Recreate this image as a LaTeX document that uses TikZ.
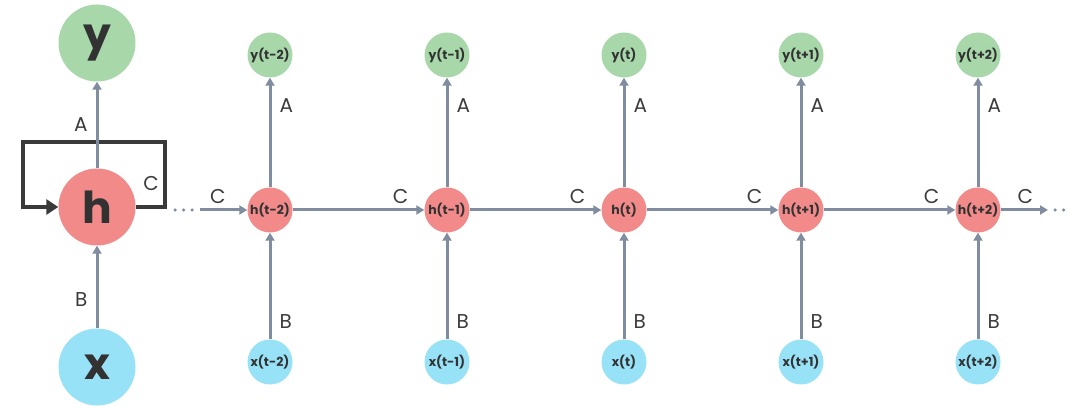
\documentclass[tikz,border=0pt]{standalone}
\usepackage{fontspec}
\setmainfont{Poppins}
\usetikzlibrary{arrows.meta, positioning}
\definecolor{rnngreen}{RGB}{168,216,170}
\definecolor{rnnred}{RGB}{242,138,138}
\definecolor{rnnblue}{RGB}{152,226,248}
\definecolor{arrowgray}{RGB}{128,140,160}
\definecolor{loopgray}{RGB}{58,58,58}
\definecolor{nodetext}{RGB}{50,50,50}
\definecolor{labeltext}{RGB}{60,60,60}
\tikzstyle{bignode} = [circle, minimum size=77pt, inner sep=0pt, text=nodetext, font=\fontsize{44}{44}\selectfont\bfseries]
\tikzstyle{smallnode} = [circle, minimum size=45pt, inner sep=0pt, text=nodetext, font=\fontsize{12.5}{12.5}\selectfont\bfseries]
\tikzstyle{arrow} = [line width=3pt, draw=arrowgray, -{Triangle[width=9pt,length=8pt]}]
\tikzstyle{feedback} = [line width=4.5pt, draw=loopgray, -{Triangle[width=15pt,length=12pt]}]
\tikzstyle{dots} = [line width=3.5pt, draw=arrowgray, line cap=round, dash pattern=on 0pt off 8.5pt]
\tikzstyle{lbl} = [font=\fontsize{20}{20}\selectfont, text=labeltext, inner sep=2pt]

\begin{document}
\begin{tikzpicture}[x=1pt, y=-1pt, node distance=177pt, on grid]
\useasboundingbox[fill=white] (0,0) rectangle (1069,406);

% folded network
\node (hidden) [bignode, fill=rnnred] at (97,207) {h};
\node (output) [bignode, fill=rnngreen, above=164pt of hidden] {y};
\node (input) [bignode, fill=rnnblue, below=160pt of hidden] {x};

\coordinate (looptr) at (165,142);
\coordinate (looptl) at (23,142);
\draw [feedback] (hidden.east) -| node[lbl, pos=0.68, left, xshift=-2pt] {C} (looptr) -- (looptl) |- (hidden.west);
\draw [arrow] (hidden) -- node[lbl, pos=0.5, left, xshift=-6pt] {A} (output);
\draw [arrow] (input) -- node[lbl, pos=0.35, left, xshift=-6pt] {B} (hidden);

% unrolled network
\node (htm2) [smallnode, fill=rnnred] at (270,210) {h(t-2)};
\node (htm1) [smallnode, fill=rnnred, right=of htm2] {h(t-1)};
\node (ht) [smallnode, fill=rnnred, right=of htm1] {h(t)};
\node (htp1) [smallnode, fill=rnnred, right=of ht] {h(t+1)};
\node (htp2) [smallnode, fill=rnnred, right=of htp1] {h(t+2)};

\node (ytm2) [smallnode, fill=rnngreen, above=155pt of htm2] {y(t-2)};
\node (ytm1) [smallnode, fill=rnngreen, above=155pt of htm1] {y(t-1)};
\node (yt) [smallnode, fill=rnngreen, above=155pt of ht] {y(t)};
\node (ytp1) [smallnode, fill=rnngreen, above=155pt of htp1] {y(t+1)};
\node (ytp2) [smallnode, fill=rnngreen, above=155pt of htp2] {y(t+2)};

\node (xtm2) [smallnode, fill=rnnblue, below=152pt of htm2] {x(t-2)};
\node (xtm1) [smallnode, fill=rnnblue, below=152pt of htm1] {x(t-1)};
\node (xt) [smallnode, fill=rnnblue, below=152pt of ht] {x(t)};
\node (xtp1) [smallnode, fill=rnnblue, below=152pt of htp1] {x(t+1)};
\node (xtp2) [smallnode, fill=rnnblue, below=152pt of htp2] {x(t+2)};

\coordinate (dotsinstart) at (175,210);
\coordinate (dotsinend) at (193,210);
\coordinate (feedin) at (200,210);
\coordinate (feedout) at (1048,210);
\coordinate (dotsoutstart) at (1055,210);
\coordinate (dotsoutend) at (1075,210);

\draw [dots] (dotsinstart) -- (dotsinend);
\draw [dots] (dotsoutstart) -- (dotsoutend);

\draw [arrow] (feedin) -- node[lbl, pos=0.375, above, yshift=3pt] {C} (htm2);
\draw [arrow] (htm2) -- node[lbl, pos=0.82, above, yshift=3pt] {C} (htm1);
\draw [arrow] (htm1) -- node[lbl, pos=0.82, above, yshift=3pt] {C} (ht);
\draw [arrow] (ht) -- node[lbl, pos=0.82, above, yshift=3pt] {C} (htp1);
\draw [arrow] (htp1) -- node[lbl, pos=0.82, above, yshift=3pt] {C} (htp2);
\draw [arrow] (htp2) -- node[lbl, pos=0.52, above, yshift=3pt] {C} (feedout);

\draw [arrow] (htm2) -- node[lbl, pos=0.75, right, xshift=6pt] {A} (ytm2);
\draw [arrow] (htm1) -- node[lbl, pos=0.75, right, xshift=6pt] {A} (ytm1);
\draw [arrow] (ht) -- node[lbl, pos=0.75, right, xshift=6pt] {A} (yt);
\draw [arrow] (htp1) -- node[lbl, pos=0.75, right, xshift=6pt] {A} (ytp1);
\draw [arrow] (htp2) -- node[lbl, pos=0.75, right, xshift=6pt] {A} (ytp2);

\draw [arrow] (xtm2) -- node[lbl, pos=0.17, right, xshift=6pt] {B} (htm2);
\draw [arrow] (xtm1) -- node[lbl, pos=0.17, right, xshift=6pt] {B} (htm1);
\draw [arrow] (xt) -- node[lbl, pos=0.17, right, xshift=6pt] {B} (ht);
\draw [arrow] (xtp1) -- node[lbl, pos=0.17, right, xshift=6pt] {B} (htp1);
\draw [arrow] (xtp2) -- node[lbl, pos=0.17, right, xshift=6pt] {B} (htp2);

\end{tikzpicture}
\end{document}
